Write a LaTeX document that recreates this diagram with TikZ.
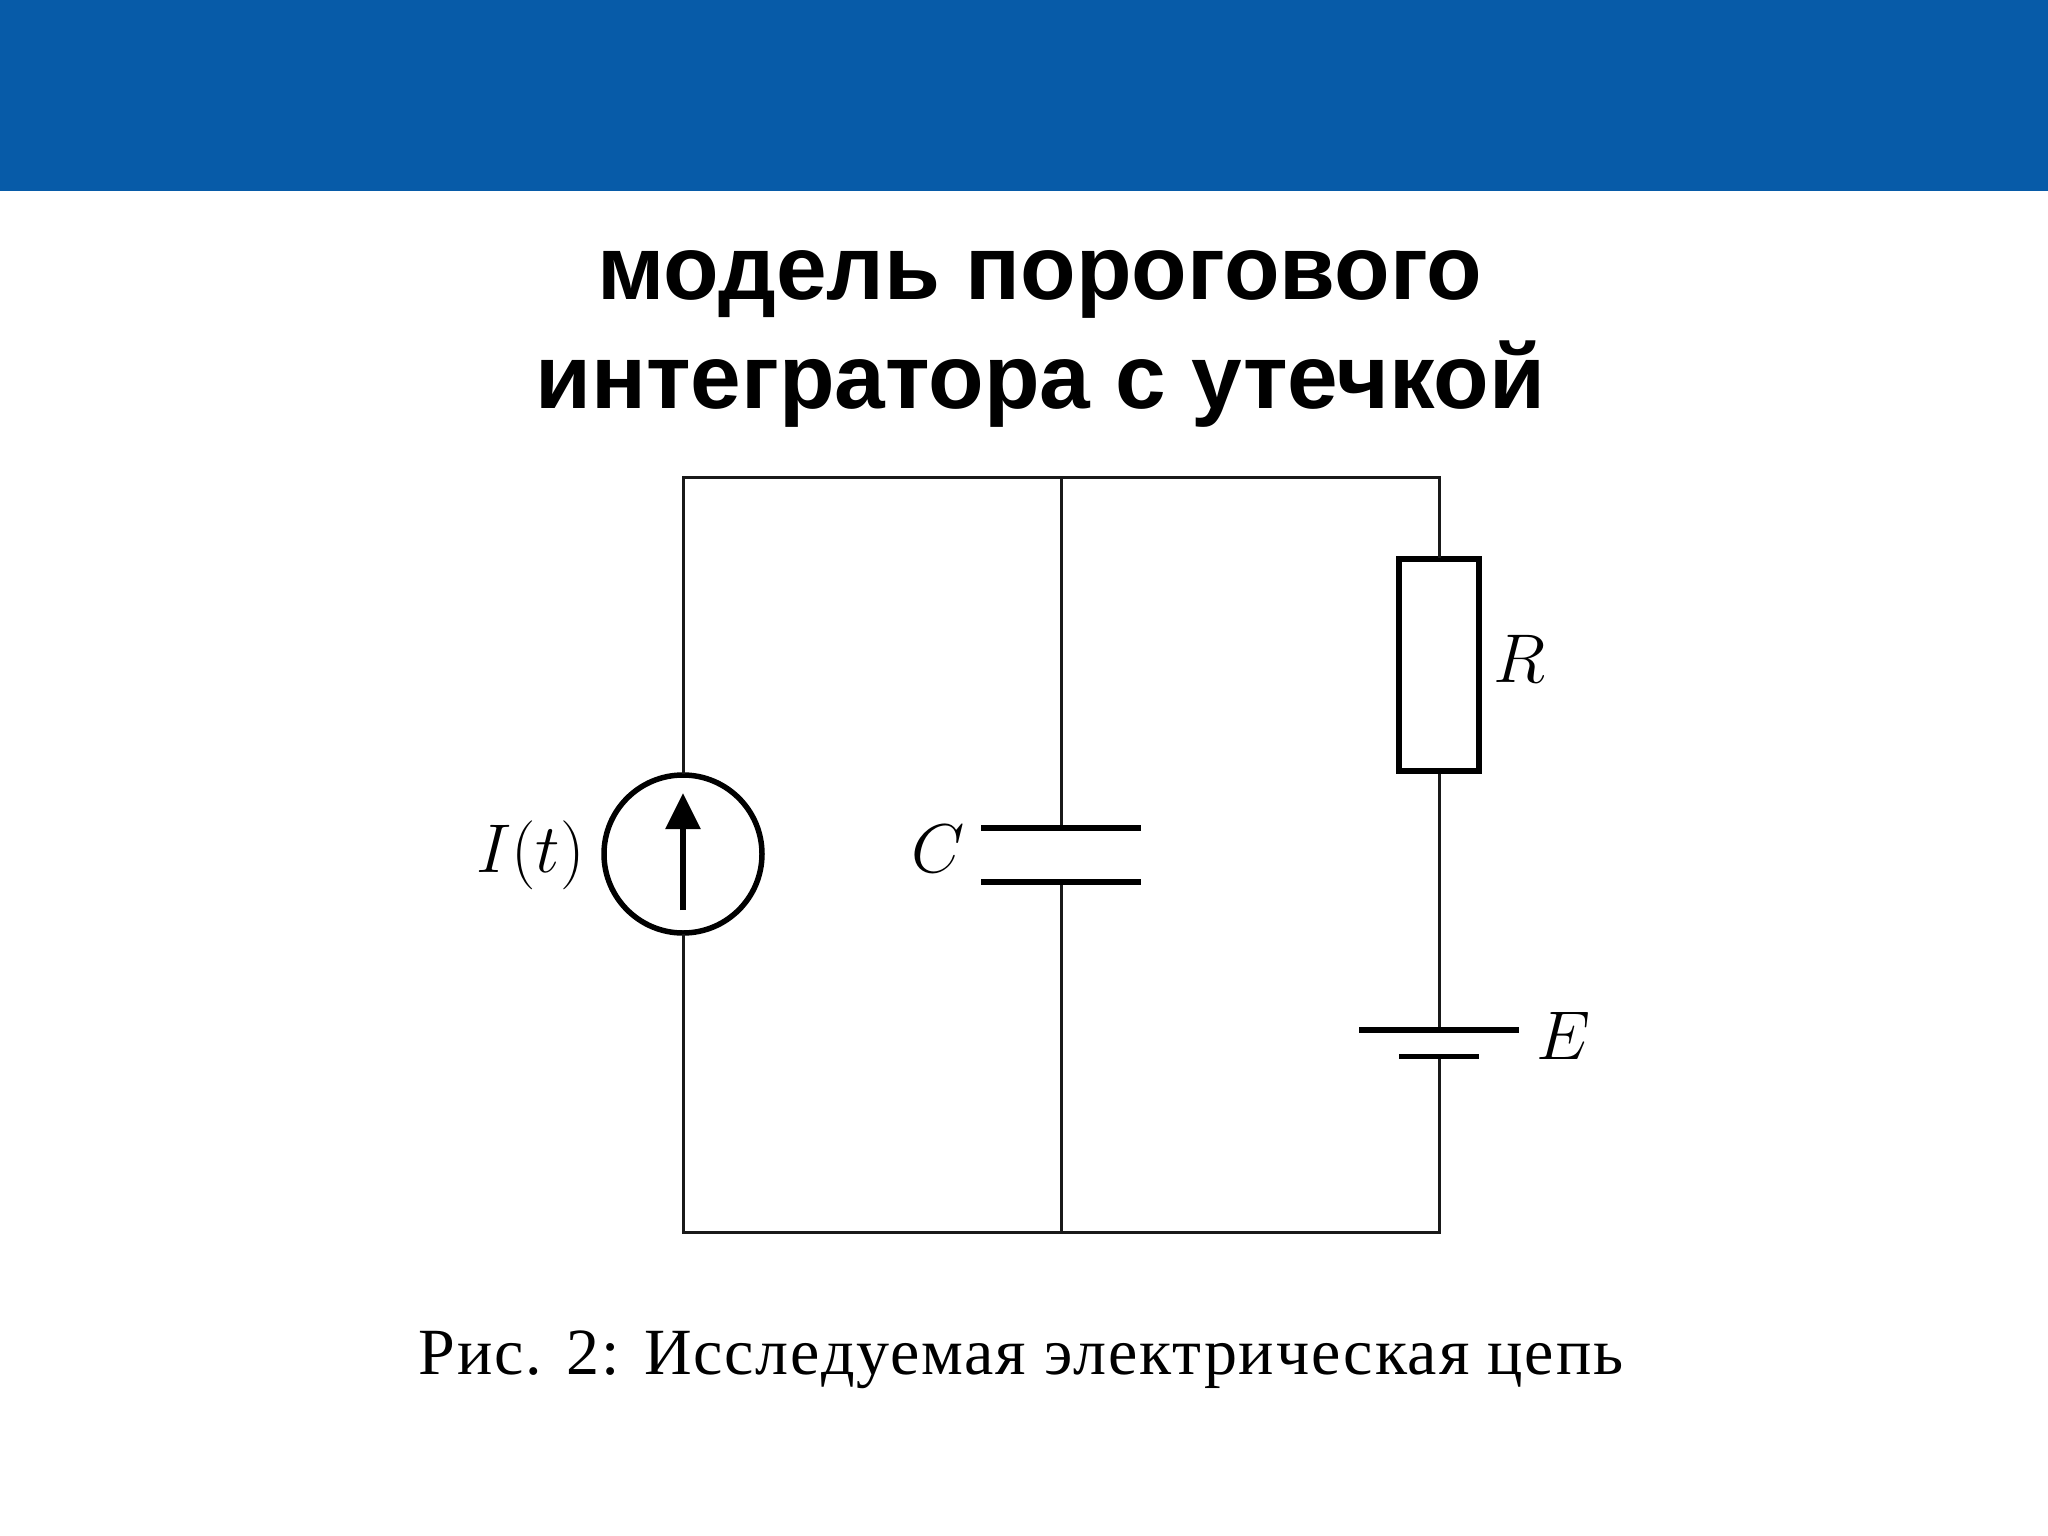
\documentclass[tikz,border=0pt]{standalone}
\usepackage{fix-cm}
\usepackage{fontspec}
\setmainfont{Liberation Sans}
\newfontfamily\capfont[LetterSpace=2.8]{Liberation Serif}
\usetikzlibrary{arrows.meta}
\definecolor{band}{HTML}{075BA8}
\tikzset{
  wire/.style={line width=3pt,black!90},
  thick part/.style={line width=5.5pt,black},
  titletext/.style={inner sep=0pt,anchor=base,font=\fontsize{91}{91}\selectfont\bfseries},
  mathlabel/.style={inner sep=0pt,anchor=base west,font=\fontsize{69}{69}\selectfont}
}
\begin{document}
\begin{tikzpicture}[x=1pt,y=-1pt]
\useasboundingbox (0,0) rectangle (2048,1536);
\fill[white] (0,0) rectangle (2048,1536);
\fill[band] (0,0) rectangle (2048,191);
\node[titletext] (t1) at (1040,299) {модель порогового};
\node[titletext] (t2) at (1040,408) {интегратора с утечкой};
% corners and junctions
\coordinate (tl) at (683,477);
\coordinate (tm) at (1061,477);
\coordinate (tr) at (1439,477);
\coordinate (bl) at (683,1232);
\coordinate (bm) at (1061,1232);
\coordinate (br) at (1439,1232);
% components
\node[circle,draw,line width=5.5pt,minimum size=158pt,inner sep=0pt] (src) at (683,854) {};
\node[rectangle,draw,line width=6pt,minimum width=80pt,minimum height=212pt,inner sep=0pt] (res) at (1439,665) {};
\coordinate (capA) at (1061,828);
\coordinate (capB) at (1061,882);
\coordinate (capAl) at (981,828);
\coordinate (capAr) at (1141,828);
\coordinate (capBl) at (981,882);
\coordinate (capBr) at (1141,882);
\coordinate (batA) at (1439,1030);
\coordinate (batB) at (1439,1056);
\coordinate (batAl) at (1359,1030);
\coordinate (batAr) at (1519,1030);
\coordinate (batBl) at (1399,1056);
\coordinate (batBr) at (1479,1056);
% wires
\draw[wire,line cap=rect] (src.north) -- (tl) -- (tr) -- (res.north);
\draw[wire,line cap=rect] (src.south) -- (bl) -- (br) -- (batB);
\draw[wire] (tm) -- (capA);
\draw[wire] (capB) -- (bm);
\draw[wire] (res.south) -- (batA);
% plates
\draw[thick part] (capAl) -- (capAr);
\draw[thick part] (capBl) -- (capBr);
\draw[thick part] (batAl) -- (batAr);
\draw[line width=5pt] (batBl) -- (batBr);
% source arrow
\coordinate (arrS) at (683,910);
\coordinate (arrE) at (683,793);
\draw[line width=5.5pt,-{Triangle[length=36pt,width=34pt]}] (arrS) -- (arrE);
% labels
\node[mathlabel] (li) at (476,872) {$I(t)$};
\node[mathlabel] (lc) at (911,872) {$C$};
\node[mathlabel] (lr) at (1493,682) {$R$};
\node[mathlabel] (le) at (1536,1059) {$E$};
\node[inner sep=0pt,anchor=base,font=\capfont\fontsize{66}{66}\selectfont] (cap) at (1021,1374) {Рис. 2: Исследуемая электрическая цепь};
\end{tikzpicture}
\end{document}
